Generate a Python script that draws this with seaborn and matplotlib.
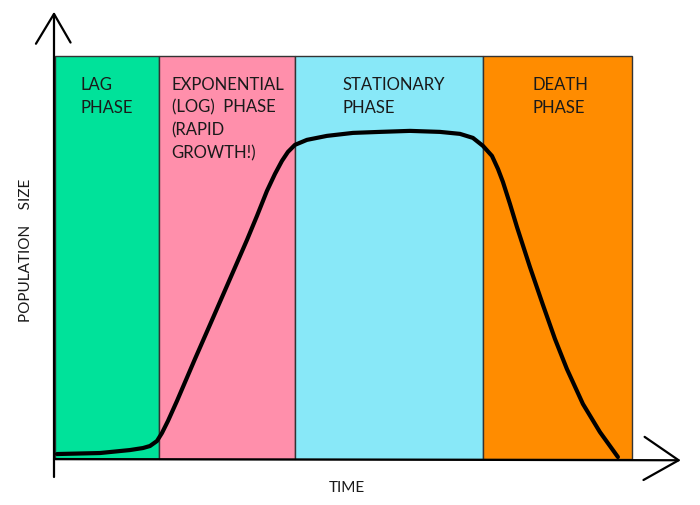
import matplotlib
matplotlib.use("Agg")
import matplotlib.pyplot as plt
import seaborn as sns
import pandas as pd

# phases (time units, 0-10 along the time axis)
phase_names = ["LAG\nPHASE", "EXPONENTIAL\n(LOG)  PHASE\n(RAPID\nGROWTH!)",
               "STATIONARY\nPHASE", "DEATH\nPHASE"]
phase_start = [0.0, 1.80, 4.16, 7.42]
phase_end = [1.80, 4.16, 7.42, 10.0]
phase_colors = ["#00E29A", "#FF8FAB", "#88E8F8", "#FF8C00"]
phase_label_x = [0.45, 2.02, 4.99, 8.27]
phase_top = 10.0

# growth curve
time = [0.035, 0.78, 1.30, 1.525, 1.646, 1.768, 1.854, 1.958, 2.114, 2.426, 2.738,
        3.033, 3.328, 3.501, 3.674, 3.813, 3.934, 4.038, 4.159, 4.367, 4.714, 5.165,
        5.633, 6.153, 6.672, 7.019, 7.244, 7.418, 7.574, 7.678, 7.764, 7.886, 8.007,
        8.232, 8.458, 8.666, 8.873, 9.151, 9.445, 9.757]
population = [0.124, 0.149, 0.223, 0.273, 0.323, 0.447, 0.645, 0.943, 1.439, 2.481,
              3.499, 4.467, 5.434, 6.030, 6.650, 7.072, 7.395, 7.618, 7.792, 7.916,
              8.015, 8.089, 8.114, 8.139, 8.114, 8.065, 7.965, 7.767, 7.519, 7.196,
              6.873, 6.328, 5.757, 4.764, 3.821, 2.978, 2.233, 1.365, 0.670, 0.050]

sns.set_style("white")
plt.rcParams['font.family'] = ['Lato', 'DejaVu Sans']

fig = plt.figure(figsize=(7, 5.06), dpi=100)
ax = fig.add_axes([0, 0, 1, 1])
ax.set_xlim(-0.953, 11.18)
ax.set_ylim(-1.14, 11.41)
ax.axis("off")

# coloured phase blocks
widths = [e - s for s, e in zip(phase_start, phase_end)]
ax.bar(phase_start, [phase_top] * 4, width=widths, align="edge",
       color=phase_colors, edgecolor="#333333", linewidth=1, zorder=1)

for lx, name in zip(phase_label_x, phase_names):
    ax.text(lx, 9.5, name, ha="left", va="top", fontsize=12,
            color="#1a1a1a", linespacing=1.5, zorder=3)

df = pd.DataFrame({"time": time, "population": population})
sns.lineplot(data=df, x="time", y="population", sort=False, color="black",
             linewidth=3, ax=ax, zorder=4)

# hand drawn axes with open arrow heads
axis_kw = dict(color="black", linewidth=1.6, solid_capstyle="round", zorder=5)
ax.plot([-0.017, -0.017], [-0.45, 11.04], **axis_kw)
ax.plot([-0.33, -0.017, 0.27], [10.3, 11.04, 10.33], **axis_kw)
ax.plot([-0.017, 10.81], [0.0, -0.03], **axis_kw)
ax.plot([10.22, 10.81, 10.2], [0.55, -0.03, -0.52], **axis_kw)

ax.text(5.05, -0.7, "TIME", ha="center", va="center", fontsize=11, color="#1a1a1a")
ax.text(-0.5, 5.2, "POPULATION    SIZE", ha="center", va="center", rotation=90,
        fontsize=11, color="#1a1a1a")

fig.savefig("out.png", dpi=100)
